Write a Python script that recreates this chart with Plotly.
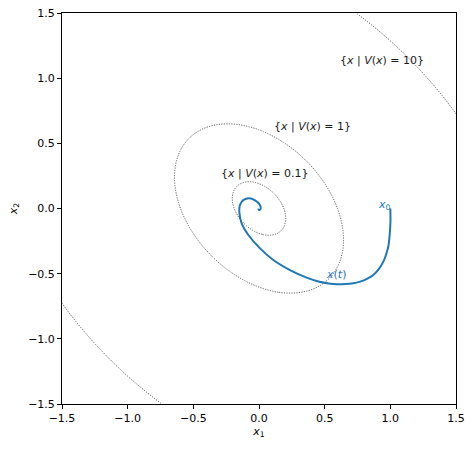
import numpy as np
import plotly.graph_objects as go

# Quadratic Lyapunov function V(x) = x^T P x (entries read from the level sets)
P11, P12, P22 = 2.80, 1.03, 2.75
levels = [0.1, 1, 10]
level_labels = ["{<i>x</i> | <i>V</i>(<i>x</i>) = 0.1}",
                "{<i>x</i> | <i>V</i>(<i>x</i>) = 1}",
                "{<i>x</i> | <i>V</i>(<i>x</i>) = 10}"]
label_x = [0.046, 0.404, 0.934]
label_y = [0.270, 0.628, 1.132]

# Trajectory x(t)
traj_x1 = [1.000, 1.001, 0.995, 0.985, 0.967, 0.947, 0.912, 0.870, 0.822, 0.770,
           0.718, 0.655, 0.592, 0.530, 0.460, 0.363, 0.236, 0.109, 0.008, -0.081,
           -0.132, -0.150, -0.145, -0.120, -0.075, -0.030, 0.004, 0.013, 0.006,
           -0.004, -0.002]
traj_x2 = [0.000, -0.100, -0.200, -0.290, -0.355, -0.408, -0.465, -0.510, -0.540, -0.561,
           -0.574, -0.580, -0.581, -0.575, -0.562, -0.530, -0.472, -0.395, -0.306, -0.203,
           -0.114, -0.025, 0.027, 0.064, 0.078, 0.063, 0.032, 0.003, -0.011,
           -0.008, -0.002]

xticks = [-1.5, -1.0, -0.5, 0.0, 0.5, 1.0, 1.5]
yticks = [-1.5, -1.0, -0.5, 0.0, 0.5, 1.0, 1.5]

g = np.linspace(-1.5, 1.5, 400)
X1, X2 = np.meshgrid(g, g)
V = P11 * X1**2 + 2 * P12 * X1 * X2 + P22 * X2**2
Z = np.log10(V)
lz = np.log10(levels)

fig = go.Figure()
fig.add_trace(go.Contour(
    x=g, y=g, z=Z,
    contours=dict(start=float(lz[0]), end=float(lz[-1]), size=float(lz[1] - lz[0]),
                  coloring="lines", showlabels=False),
    colorscale=[[0, "#5f5f5f"], [1, "#5f5f5f"]],
    showscale=False,
    line=dict(width=1, dash="1.2px,1.3px", smoothing=1.0),
    hoverinfo="skip",
))
fig.add_trace(go.Scatter(
    x=traj_x1, y=traj_x2, mode="lines",
    line=dict(color="#1f77b4", width=2, shape="spline", smoothing=0.8),
    hoverinfo="skip", showlegend=False,
))

FS = 11
font = dict(family="DejaVu Sans", size=FS, color="#1a1a1a")
for txt, lx, ly in zip(level_labels, label_x, label_y):
    fig.add_annotation(x=lx, y=ly, text=txt, showarrow=False, font=font)
fig.add_annotation(x=0.952, y=0.027, text="<i>x</i><sub>0</sub>", showarrow=False,
                   font=dict(family="DejaVu Sans", size=FS, color="#1f77b4"))
fig.add_annotation(x=0.586, y=-0.51, text="<i>x</i>(<i>t</i>)", showarrow=False,
                   font=dict(family="DejaVu Sans", size=FS, color="#1f77b4"))

axis_common = dict(showline=True, linecolor="black", linewidth=0.9, mirror=True,
                   ticks="outside", ticklen=4, tickwidth=0.9, tickcolor="black",
                   showgrid=False, zeroline=False, tickformat=".1f",
                   tickfont=dict(family="DejaVu Sans", size=FS, color="black"))
fig.update_xaxes(range=[-1.5, 1.5], tickvals=xticks, **axis_common,
                 title=dict(text="<i>x</i><sub>1</sub>", standoff=2,
                            font=dict(family="DejaVu Sans", size=FS, color="black")))
fig.update_yaxes(range=[-1.5, 1.5], tickvals=yticks, **axis_common,
                 title=dict(text="<i>x</i><sub>2</sub>", standoff=8,
                            font=dict(family="DejaVu Sans", size=FS, color="black")))
fig.update_layout(width=474, height=450, margin=dict(l=62, r=18, t=13, b=46, autoexpand=False),
                  plot_bgcolor="white", paper_bgcolor="white", showlegend=False)
fig.write_html("out.html", config={"displayModeBar": False},
               post_script="document.body.style.margin='0';")
